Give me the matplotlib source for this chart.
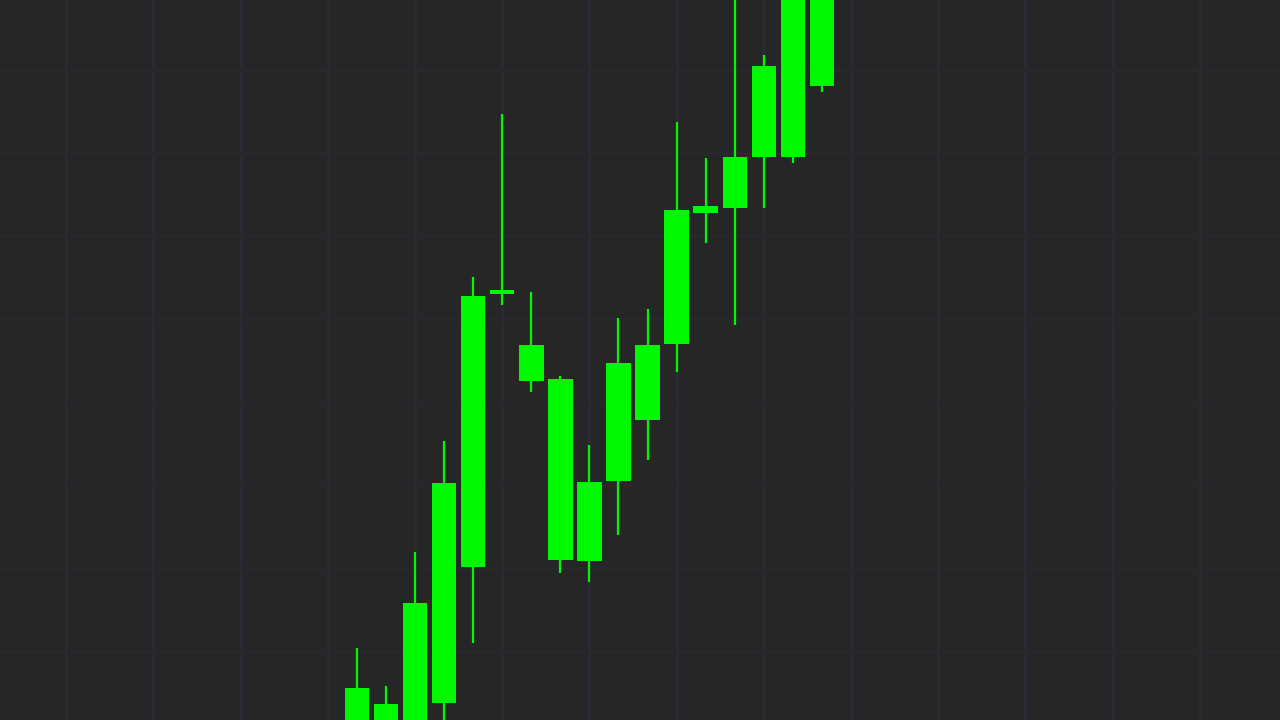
import numpy as np
import matplotlib
matplotlib.use('Agg')
import matplotlib.pyplot as plt

# candle data (all candles close above open)
OPEN = [98.0, 98.0, 98.0, 101.7, 115.3, 142.6, 133.9, 116.0, 115.9, 123.9, 130.0, 137.6, 150.7, 151.2, 156.3, 156.3, 163.4]
CLOSE = [103.2, 101.6, 111.7, 123.7, 142.4, 143.0, 137.5, 134.1, 123.8, 135.7, 137.5, 151.0, 151.4, 156.3, 165.4, 175.0, 173.0]
HIGH = [107.2, 103.4, 116.8, 127.9, 144.3, 160.6, 142.8, 134.4, 127.5, 140.2, 141.1, 159.8, 156.2, 174.0, 166.5, 177.0, 175.0]
LOW = [97.5, 97.5, 97.5, 99.0, 107.7, 141.5, 132.8, 114.7, 113.8, 118.5, 126.0, 134.8, 147.7, 139.5, 151.2, 155.7, 162.8]

BG = '#262626'
GREEN = '#00f800'
GRID_V = '#2a2c35'
GRID_H = '#28292e'


def main():
    fig = plt.figure(figsize=(12.8, 7.2), dpi=100, facecolor=BG)
    ax = fig.add_axes([0, 0, 1, 1], facecolor=BG)

    x = np.arange(len(OPEN))
    opens = np.array(OPEN)
    closes = np.array(CLOSE)

    ax.vlines(x, LOW, HIGH, color=GREEN, linewidth=1.6, zorder=3)
    ax.bar(x, closes - opens, bottom=opens, width=0.84, color=GREEN, zorder=4)

    ax.set_xlim(-12.28, 31.76)
    ax.set_ylim(100, 172)

    ax.set_xticks(np.arange(-10, 32, 3))
    ax.set_yticks(np.arange(165, 99, -8.3))
    ax.grid(True, axis='x', color=GRID_V, linewidth=1.8, zorder=0)
    ax.grid(True, axis='y', color=GRID_H, linewidth=1.8, zorder=0)
    ax.tick_params(length=0, labelbottom=False, labelleft=False)
    for spine in ax.spines.values():
        spine.set_visible(False)

    fig.savefig('out.png', dpi=100, facecolor=BG)
    plt.close(fig)


if __name__ == '__main__':
    main()
